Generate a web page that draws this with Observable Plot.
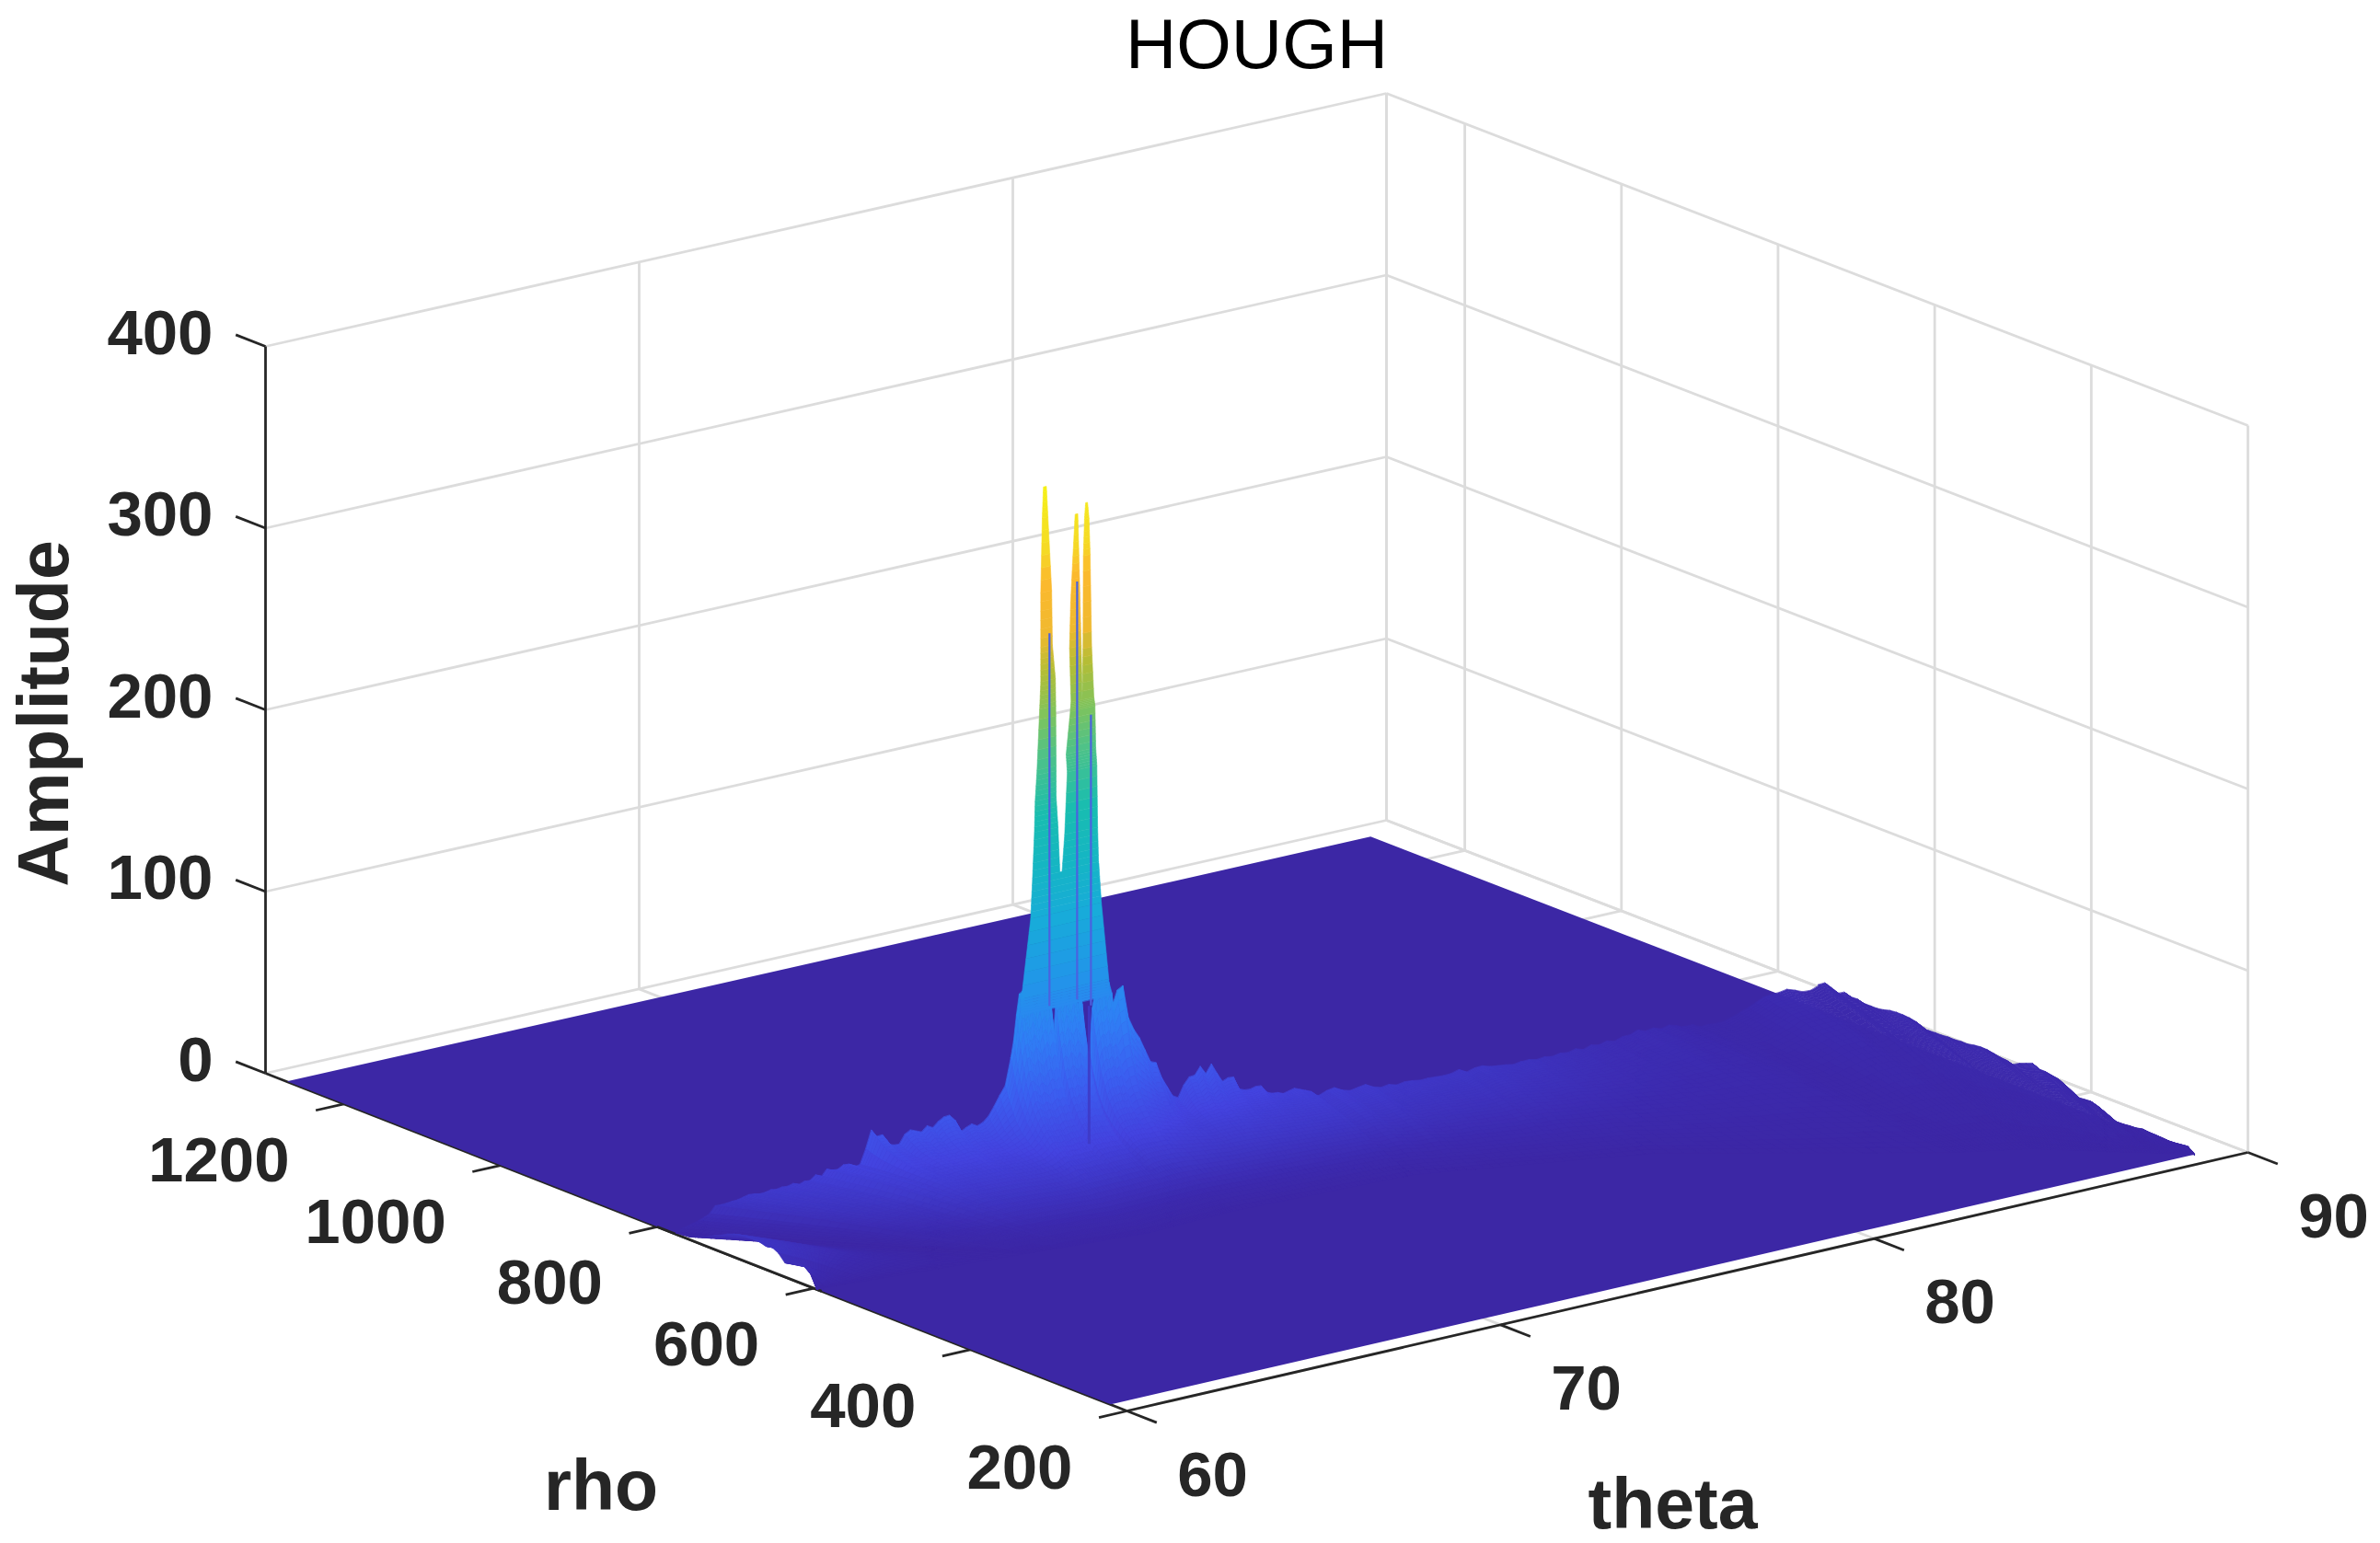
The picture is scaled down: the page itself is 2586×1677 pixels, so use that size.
<!DOCTYPE html>
<html>
<head>
<meta charset="utf-8">
<style>html,body{margin:0;padding:0;background:#fff}svg{display:block}</style>
<script src="https://cdn.jsdelivr.net/npm/d3@7"></script>
<script src="https://cdn.jsdelivr.net/npm/@observablehq/plot@0.6"></script>
</head>
<body>
<div id="chart"></div>
<script>
// ---------- axes ----------
const titleText = "HOUGH";
const thetaTicks = [60, 70, 80, 90];
const rhoTicks = [200, 400, 600, 800, 1000, 1200];
const ampTicks = [0, 100, 200, 300, 400];
const thetaLimits = [60, 90];
const rhoLimits = [200, 1300];

// extent of the sampled surface floor
const surfaceTheta = [60, 89];
const surfaceRho = [220, 1272];

// ---------- colour by amplitude ----------
const ampStops = [0, 5, 15, 25, 50, 80, 110, 140, 170, 200, 235, 255, 280, 300, 330, 345, 380];
const ampColors = ["#3c27a5", "#3c2aae", "#3f38c8", "#4343df", "#3b5ef0", "#2f7ff5", "#2196e8", "#18aadb", "#15b5c4", "#18bdb0", "#52c285", "#7fc35c", "#b5bd35", "#f0b92f", "#fcb92e", "#f5d925", "#f5f018"];

// ---------- ridge rim: [theta, rho] end points of each stretch, and the rim amplitude read along it ----------
const biteRimStart = [60, 595], biteRimEnd = [60, 775];
const biteBaseStart = [60, 595], biteBaseEnd = [65, 570];
const biteAmp = [0, 7, 9.7, 10, 9, 7.6, 11.5, 13.4, 12.6, 13.6, 13.7, 13.5, 13.2, 12.4, 11, 9, 7.6, 5.6, 4, 3, 1.2, 0.8, 0.5];

const riseRimEnd = [67.7, 715], riseBaseEnd = [68, 555];
const riseAmp = [1, 2.5, 3.5, 4.5, 5.5, 7, 8.5, 12.5, 12.6, 13, 13.6, 14, 15, 16, 16, 15.6, 16, 17, 16.8, 17.6, 17.6, 18.7, 17.7, 19, 19, 21.7, 20, 24, 23, 23, 25, 25, 23, 24, 32, 42, 38, 38.5, 33, 32, 32, 37, 39, 38, 37, 40, 38.5, 41.5, 43.5, 44, 41, 34, 36, 37.5, 36, 37.5, 40.5, 45.5, 51, 56, 71];

const peakRimEnd = [70.4, 715], peakBaseEnd = [70.4, 560];
const peakAmp = [71, 80, 94, 105, 106, 100, 96, 102, 98, 94, 100, 104, 98, 103, 100, 72, 96, 100, 95, 102, 98, 94, 100, 96, 92, 98, 60, 42, 64, 88, 96, 100, 98, 102, 96, 100, 94];

const shoulderRimEnd = [75, 680], shoulderBaseEnd = [75, 550];
const shoulderAmp = [86, 95, 97, 79, 72, 67, 60, 53, 52, 43.5, 38, 32.5, 31, 37.5, 41.5, 42, 46.5, 42, 47, 41.5, 36.5, 38, 38, 31, 30, 30, 31, 31, 27, 26, 26, 25, 26, 27, 26, 25, 24];

const plateauRimEnd = [80, 650], plateauBaseEnd = [80, 480];
const plateauAmp = [22.5, 21, 23, 24, 22, 21, 22, 23, 21, 20, 21, 20, 21, 21, 20.5, 21, 21, 21, 21.5, 23, 21, 22.5, 23, 22, 21.7, 21.5, 21, 22];

const slopeRimEnd = [85, 690], slopeBaseEnd = [85, 340];
const slopeAmp = [21.8, 21.5, 20, 20, 18.7, 19, 17.8, 18.4, 16.5, 17.5, 16, 16.7, 15, 16, 15.5, 16.7, 14.6, 14.8, 12.8, 13.4, 11.6];

const kneeRimEnd = [89, 700], kneeBaseEnd = [86.5, 310];
const kneeAmp = [10.6, 10, 9.8, 7.6, 7.6, 7, 7, 8.3, 9.6, 11, 12.6, 14.6, 15, 15, 15.6, 14, 12, 11.6, 13];

const edgeRimEnd = [89, 220], edgeBaseEnd = [89, 220];
const edgeAmp = [13.6, 16, 12.6, 13, 15, 13.8, 14, 13, 13, 13, 13.6, 14.6, 15, 15, 14.7, 14, 11.4, 11.8, 12, 12, 12.4, 12.3, 12.7, 12.6, 13.4, 13.8, 13.7, 13, 12.3, 12, 11, 13, 14.4, 15.8, 14, 14, 13.3, 12.7, 7, 6.8, 6.6, 7, 7.3, 6.2, 1.6, 1.5, 1.5, 1.6, 2, 2.2, 3, 2.6, 2.5, 2.3, 2, 2.2, 2.6, 3, 0];

// how bright the surface reads along each stretch, relative to its height [start, end]
const stretchShade = [[1, 1], [1, 1], [1, 1], [1, 0.85], [0.85, 0.55], [0.55, 0.42], [0.42, 0.38], [0.38, 0.38]];

// height left at each fraction of the way from rim to base: low band part, and steep peak part above ampCap
const ampCap = 25;
const slopeFraction = [0, 0.03, 0.07, 0.12, 0.18, 0.25, 0.33, 0.42, 0.52, 0.63, 0.75, 0.87, 1];
const bandHeight = [1, 0.98, 0.95, 0.91, 0.86, 0.8, 0.72, 0.62, 0.5, 0.37, 0.23, 0.1, 0];
const peakHeight = [1, 0.75, 0.5, 0.32, 0.2, 0.12, 0.07, 0.04, 0.02, 0, 0, 0, 0];

// ---------- the peaks (all at rho about 715) ----------
const peakRho = 715;
const coreAmp = [93, 102, 145, 167];
const coreLeft = [67.955, 67.98, 68.23, 68.28];
const coreRight = [70.34, 70.32, 70.12, 70.05];

const lobeAmp = [167, 192, 209, 226, 259, 274, 293, 323, 364, 381];
const lobeLeft = [68.28, 68.33, 68.35, 68.40, 68.47, 68.5, 68.5, 68.5, 68.54, 68.57];
const lobeRight = [69.01, 68.96, 68.91, 68.91, 68.9, 68.89, 68.81, 68.79, 68.69, 68.65];

const twinAmp = [164, 187, 221, 231, 254, 259];
const twinLeft = [69.06, 69.14, 69.21, 69.18, 69.29, 69.31];
const twinRight = [70.05, 70.02, 70.0, 69.97, 69.95, 69.92];

const middleAmp = [259, 289, 314, 339, 362];
const middleLeft = [69.31, 69.27, 69.3, 69.36, 69.42];
const middleRight = [69.61, 69.58, 69.55, 69.52, 69.49];

const thirdAmp = [259, 287, 338, 358, 367];
const thirdLeft = [69.61, 69.63, 69.64, 69.67, 69.70];
const thirdRight = [69.92, 69.86, 69.82, 69.79, 69.75];

// dark facets running down the peaks
const streakTheta = [68.72, 69.46, 69.83];
const streakTop = [300, 325, 250];
const streakBottom = [95, 95, 90];
const gullyTheta = [69.78];
const gullyTop = [90];
const gullyBottom = [14];

// ---------- view: oblique projection of (theta, rho, amplitude) on to the drawing plane ----------
const thetaU = d3.scaleLinear().domain(thetaLimits).range([0, 1]);
const rhoV = d3.scaleLinear().domain(rhoLimits).range([0, 1]);
const ampLift = d3.scaleLinear().domain([0, 400]).range([0, 790]);
const viewX = (t, r) => 1224 + 1218 * thetaU(t) - 936 * rhoV(r);
const viewY = (t, r, a = 0) => 1533 - 281 * thetaU(t) - 367 * rhoV(r) + 6 * thetaU(t) * rhoV(r) - ampLift(a);
const lerp = (a, b, k) => a + (b - a) * k;

// ---------- build the ridge mesh ----------
const stretches = [
  [biteRimStart, biteRimEnd, biteBaseStart, biteBaseEnd, biteAmp],
  [biteRimEnd, riseRimEnd, biteBaseEnd, riseBaseEnd, riseAmp],
  [riseRimEnd, peakRimEnd, riseBaseEnd, peakBaseEnd, peakAmp],
  [peakRimEnd, shoulderRimEnd, peakBaseEnd, shoulderBaseEnd, shoulderAmp],
  [shoulderRimEnd, plateauRimEnd, shoulderBaseEnd, plateauBaseEnd, plateauAmp],
  [plateauRimEnd, slopeRimEnd, plateauBaseEnd, slopeBaseEnd, slopeAmp],
  [slopeRimEnd, kneeRimEnd, slopeBaseEnd, kneeBaseEnd, kneeAmp],
  [kneeRimEnd, edgeRimEnd, kneeBaseEnd, edgeBaseEnd, edgeAmp]
];
const rim = [];
stretches.forEach(([r0, r1, b0, b1, amps], n) => {
  amps.forEach((amp, i) => {
    const k = i / (amps.length - 1);
    rim.push({
      rt: lerp(r0[0], r1[0], k), rr: lerp(r0[1], r1[1], k),
      bt: lerp(b0[0], b1[0], k), br: lerp(b0[1], b1[1], k), amp,
      shade: lerp(stretchShade[n][0], stretchShade[n][1], k)
    });
  });
});
// three mesh rows per profile step, so the colour ramp has no visible bands
const meshSteps = 3;
const levelCount = (slopeFraction.length - 1) * meshSteps;
const atLevel = (list, l) => {
  const f = l / meshSteps, i = Math.min(Math.floor(f), list.length - 2);
  return lerp(list[i], list[i + 1], f - i);
};
const meshPoint = (p, l) => {
  const s = atLevel(slopeFraction, l);
  const a = Math.min(p.amp, ampCap) * atLevel(bandHeight, l) + Math.max(p.amp - ampCap, 0) * atLevel(peakHeight, l);
  const t = lerp(p.rt, p.bt, s), r = lerp(p.rr, p.br, s);
  return {t, r, a, shade: p.shade, x: viewX(t, r), y: viewY(t, r, a)};
};
const quads = [];
for (let i = 0; i + 1 < rim.length; i++) {
  for (let l = 0; l < levelCount; l++) {
    const a = meshPoint(rim[i], l), b = meshPoint(rim[i + 1], l);
    const c = meshPoint(rim[i], l + 1), d = meshPoint(rim[i + 1], l + 1);
    quads.push({
      depth: thetaU((a.t + b.t + c.t + d.t) / 4) + rhoV((a.r + b.r + c.r + d.r) / 4),
      amp: a.shade * (a.a + b.a + c.a + d.a) / 4, a, b, c, d
    });
  }
}
quads.sort((p, q) => q.depth - p.depth);
const meshRows = quads.flatMap((q, id) => [
  {id, amp: q.amp, x1: q.a.x, y1: q.a.y, x2: q.b.x, y2: q.b.y},
  {id, amp: q.amp, x1: q.c.x, y1: q.c.y, x2: q.d.x, y2: q.d.y}
]);

// the peaks as stacks of narrow slices
const spikeRows = [];
let spikeId = 0;
for (const [amps, left, right] of [
  [coreAmp, coreLeft, coreRight], [lobeAmp, lobeLeft, lobeRight], [twinAmp, twinLeft, twinRight],
  [middleAmp, middleLeft, middleRight], [thirdAmp, thirdLeft, thirdRight]
]) {
  for (let i = 0; i + 1 < amps.length; i++) {
    const slices = 6;
    for (let j = 0; j < slices; j++) {
      const k0 = j / slices, k1 = (j + 1) / slices;
      const a0 = lerp(amps[i], amps[i + 1], k0), a1 = lerp(amps[i], amps[i + 1], k1);
      const l0 = lerp(left[i], left[i + 1], k0), l1 = lerp(left[i], left[i + 1], k1);
      const r0 = lerp(right[i], right[i + 1], k0), r1 = lerp(right[i], right[i + 1], k1);
      const amp = (a0 + a1) / 2;
      spikeRows.push(
        {id: spikeId, amp, x1: viewX(l0, peakRho), y1: viewY(l0, peakRho, a0), x2: viewX(r0, peakRho), y2: viewY(r0, peakRho, a0)},
        {id: spikeId, amp, x1: viewX(l1, peakRho), y1: viewY(l1, peakRho, a1), x2: viewX(r1, peakRho), y2: viewY(r1, peakRho, a1)}
      );
      spikeId++;
    }
  }
}

// white gap under the lifted theta = 60 edge
const biteRows = biteAmp.map((amp, i) => {
  const r = lerp(biteRimStart[1], biteRimEnd[1], i / (biteAmp.length - 1));
  return {x1: viewX(60, r), y1: viewY(60, r), x2: viewX(60, r), y2: viewY(60, r, amp)};
});

const floorRows = surfaceRho.map(r => ({
  x1: viewX(surfaceTheta[0], r), y1: viewY(surfaceTheta[0], r),
  x2: viewX(surfaceTheta[1], r), y2: viewY(surfaceTheta[1], r)
}));

// grid lines and axis lines as [from, to] in data space
const seg = (t1, r1, a1, t2, r2, a2) => ({x1: viewX(t1, r1), y1: viewY(t1, r1, a1), x2: viewX(t2, r2), y2: viewY(t2, r2, a2)});
const [t0, t1] = thetaLimits, [r0, r1] = rhoLimits, zTop = ampTicks[ampTicks.length - 1];
const gridLines = [
  ...ampTicks.map(a => seg(t0, r1, a, t1, r1, a)),
  ...ampTicks.map(a => seg(t1, r1, a, t1, r0, a)),
  ...thetaTicks.slice(1).map(t => seg(t, r1, 0, t, r1, zTop)),
  ...[r1, ...rhoTicks].map(r => seg(t1, r, 0, t1, r, zTop)),
  ...thetaTicks.slice(1).map(t => seg(t, r0, 0, t, r1, 0)),
  ...rhoTicks.map(r => seg(t0, r, 0, t1, r, 0))
];
const axisLines = [
  seg(t0, r1, 0, t0, r1, zTop),
  seg(t0, r1, 0, t0, r0, 0),
  seg(t0, r0, 0, t1, r0, 0),
  ...ampTicks.map(a => seg(t0, r1, a, t0, r1 + 38, a)),
  ...rhoTicks.map(r => seg(t0, r, 0, t0 - 0.75, r, 0)),
  ...thetaTicks.map(t => seg(t, r0, 0, t, r0 - 38, 0))
];
const biteAxis = [seg(t0, biteRimStart[1] - 5, 0, t0, biteRimEnd[1] + 25, 0)];
const streaks = streakTheta.map((t, i) => seg(t, peakRho, streakTop[i], t, peakRho, streakBottom[i]));
const gullies = gullyTheta.map((t, i) => seg(t, peakRho, gullyTop[i], t, peakRho, gullyBottom[i]));

const font = "Liberation Sans, Arial, sans-serif";
const ink = "#262626";
const tickFont = {fontFamily: font, fontSize: 69, fontWeight: "bold", fill: ink, lineAnchor: "middle"};
const labelFont = {fontFamily: font, fontSize: 77, fontWeight: "bold", fill: ink, lineAnchor: "middle", textAnchor: "middle"};
const linkXY = {x1: "x1", y1: "y1", x2: "x2", y2: "y2"};

const chart = Plot.plot({
  width: 2586,
  height: 1677,
  margin: 0,
  x: {domain: [0, 2586], range: [0, 2586], axis: null},
  y: {domain: [0, 1677], range: [0, 1677], axis: null},
  color: {type: "linear", domain: ampStops, range: ampColors, legend: false},
  style: {background: "#fff"},
  marks: [
    Plot.link(gridLines, {...linkXY, stroke: "#dcdcdc", strokeWidth: 2.8}),
    Plot.link(axisLines, {...linkXY, stroke: ink, strokeWidth: 2.8}),
    Plot.area(floorRows, {...linkXY, fill: ampColors[0]}),
    Plot.area(biteRows, {...linkXY, fill: "#fff"}),
    Plot.link(biteAxis, {...linkXY, stroke: ink, strokeWidth: 2.8}),
    Plot.area(meshRows, {...linkXY, z: "id", fill: "amp", stroke: "amp", strokeWidth: 0.7}),
    Plot.area(spikeRows, {...linkXY, z: "id", fill: "amp", stroke: "amp", strokeWidth: 0.6}),
    Plot.link(streaks, {...linkXY, stroke: "#4a62e0", strokeWidth: 2.2}),
    Plot.link(gullies, {...linkXY, stroke: "#3e38c4", strokeWidth: 3, strokeOpacity: 0.85}),
    Plot.text(ampTicks, {x: a => viewX(t0, r1) - 57, y: a => viewY(t0, r1, a) - 14, text: a => String(a), textAnchor: "end", ...tickFont}),
    Plot.text(rhoTicks, {x: r => viewX(t0, r) - 59, y: r => viewY(t0, r) + 62, text: r => String(r), textAnchor: "end", ...tickFont}),
    Plot.text(thetaTicks, {x: t => viewX(t, r0) + 93, y: t => viewY(t, r0) + 70, text: t => String(t), textAnchor: "middle", ...tickFont}),
    Plot.text(["rho"], {x: () => viewX(t0, 800) - 61, y: () => viewY(t0, 800) + 283, text: d => d, ...labelFont}),
    Plot.text(["theta"], {x: () => viewX(70, r0) + 187, y: () => viewY(70, r0) + 197, text: d => d, ...labelFont}),
    Plot.text(["Amplitude"], {x: () => viewX(t0, r1) - 239, y: () => viewY(t0, r1, 200) + 4, text: d => d, rotate: -90, ...labelFont}),
    Plot.text([titleText], {x: () => viewX(t1, r1) - 141, y: () => viewY(t1, r1, zTop) - 52, text: d => d, fontFamily: font, fontSize: 76.6, fill: "#000", lineAnchor: "middle", textAnchor: "middle"})
  ]
});
document.getElementById("chart").append(chart);
</script>
</body>
</html>
